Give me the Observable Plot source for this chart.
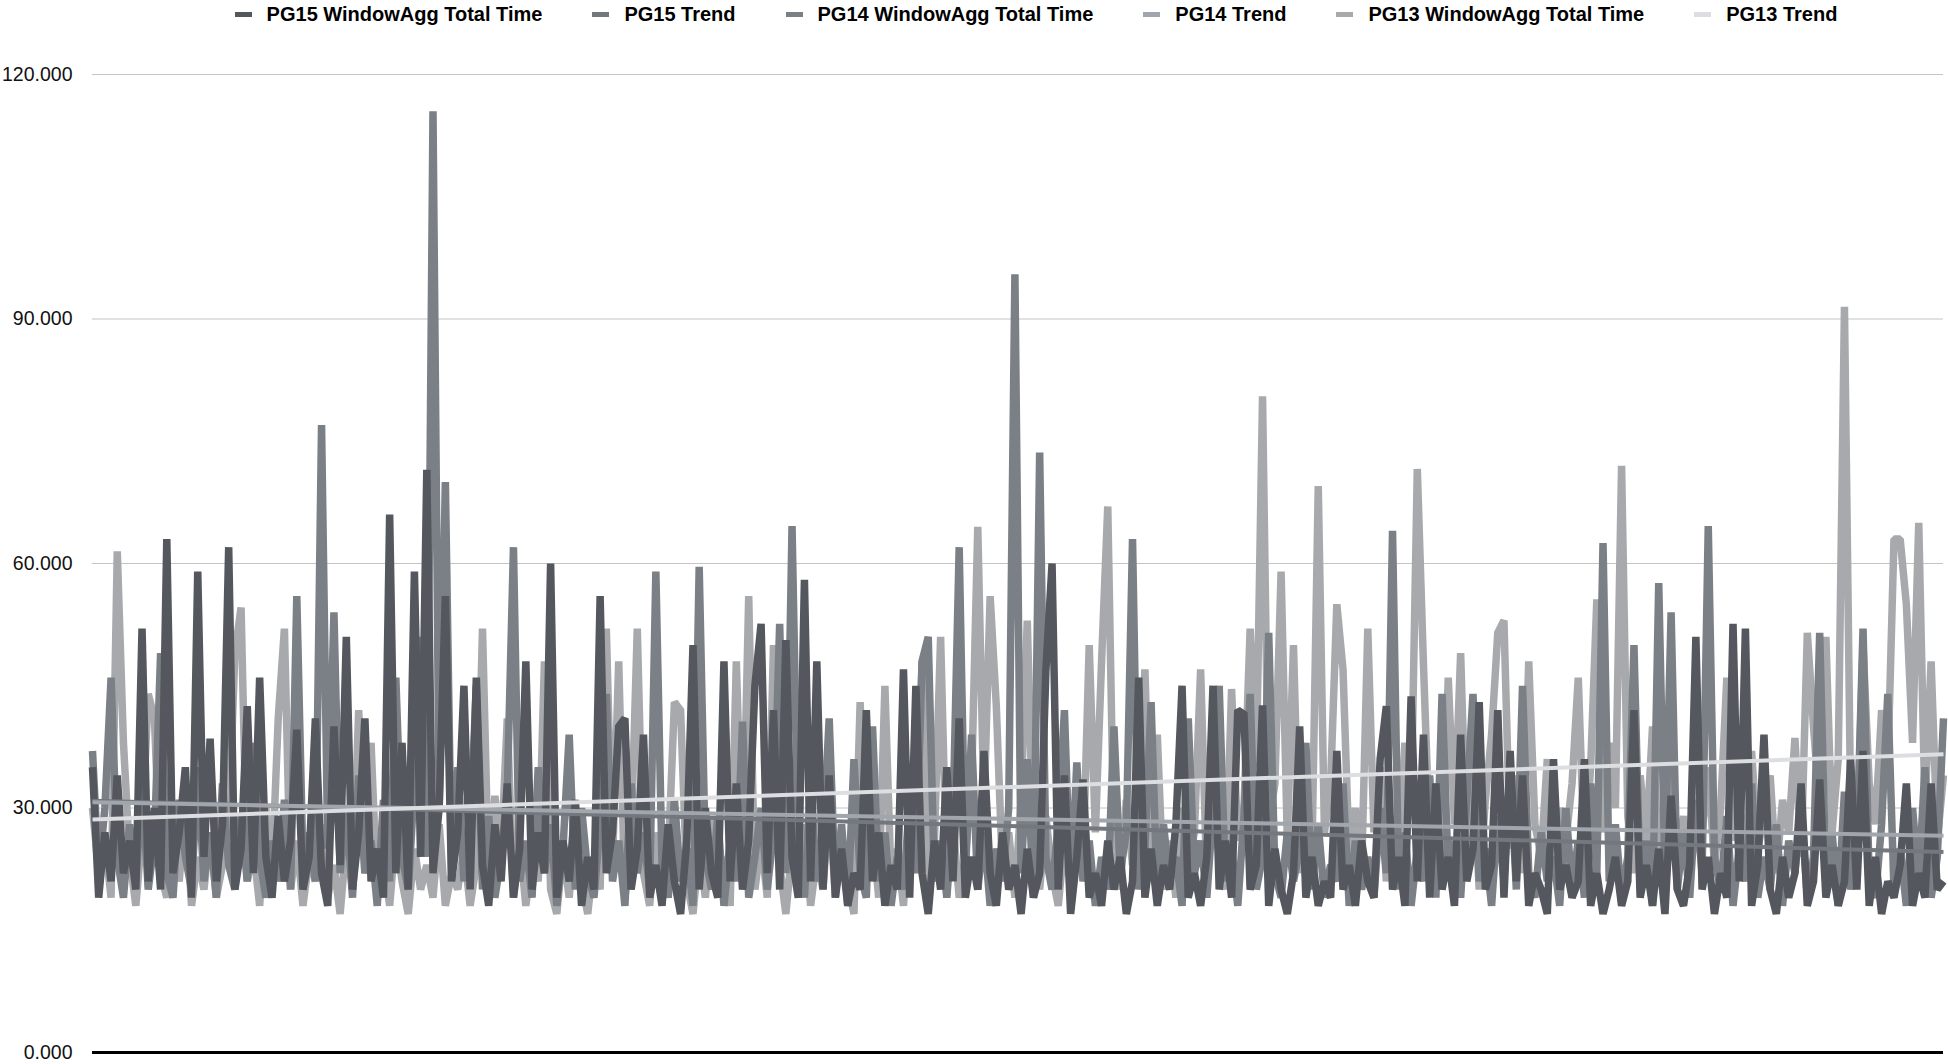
<!DOCTYPE html>
<html>
<head>
<meta charset="utf-8">
<script src="https://cdn.jsdelivr.net/npm/d3@7"></script>
<script src="https://cdn.jsdelivr.net/npm/@observablehq/plot@0.6"></script>
<style>
  body { margin: 0; background: #fff; width: 1948px; height: 1064px; overflow: hidden;
         font-family: "Liberation Sans", Arial, Helvetica, sans-serif; }
  #wrap { position: relative; width: 1948px; height: 1064px; }
  #legend { position: absolute; top: 3px; left: 0; width: 1948px; display: flex; justify-content: center;
            padding-left: 124px; box-sizing: border-box; font-weight: bold; font-size: 20px; color: #000; z-index: 2; }
  .item { display: flex; align-items: center; margin: 0 25px; white-space: nowrap; }
  .sw { width: 17px; height: 5px; margin-right: 15px; }
  #chart { position: absolute; top: 0; left: 0; }
</style>
</head>
<body>
<div id="wrap">
  <div id="legend"></div>
  <div id="chart"></div>
</div>
<script>
// ---- data ----
const seriesNames = ["PG15 WindowAgg Total Time", "PG15 Trend", "PG14 WindowAgg Total Time", "PG14 Trend", "PG13 WindowAgg Total Time", "PG13 Trend"];

const pg15 = [
  35,19,27,21,34,22,26,20,52,21,30,20,63,22,27,35,19,59,24,38.5,
  21,28,62,20,25,42.5,22,46,24,19,29,21,26,39.6,20,24,41,22,18,40,
  23,51,20,27,41,21,25,19,66,22,38,20,59,24,71.5,22,30,56,21,27,
  45,20,46,23,18,28,21,33,19,25,48,20,27,22,60,19,26,21,31,18,
  24,20,56,22,27,40,41,20,25,39,19,23,18,28,21,17,26,50,20,30,
  22,19,48,21,33,20,26,45,52.6,22,42,20,50.6,24,19,58,21,48,20,34,
  19,25,18,22,20,42,21,27,18,23,20,47,19,45,22,17,26,20,35,21,
  41,19,24,20,37,22,18,27,20,23,17,25,19,22,46.8,60,20,34,17,24,
  33.5,19,22,18,26,20,24,17,21,46,19,25,18,23,20,28,45,19,22,18,
  24,45,20,26,19,42,41.5,20,23,42.6,18,25,20,17,22,40,19,24,18,21,
  19,37,20,23,18,26,21,19,36,42.5,20,24,18,43.7,21,39,19,33,20,24,
  18,39,21,25,43,20,23,42,19,37,21,34,18,22,20,17,36,20,23,19,
  21,36,18,22,17,20,24,18,21,42,19,23,18,25,17,31.5,20,18,23,51,
  20,24,17,22,19,52.6,21,52,18,23,39,20,17,24,19,22,33,18,21,33.5,
  19,23,18,21,36,20,37,18,24,17,21,19,23,33,18,22,19,33,20,21
];

const pg14 = [
  37,22,30,46,24,19,28,21,33,20,26,49,22,19,31,24,20,35,21,27,
  19,33,23,20,29,21,38,24,19,26,21,31,20,56,23,27,21,77,25,54,
  22,30,19,34,22,26,18,31,21,46,24,20,33,51,24,115.5,30,70,22,35,
  21,27,45,20,29,19,24,32,62,21,26,19,35,22,28,18,25,39,20,30,
  22,19,28,44,21,26,18,33,22,27,20,59,23,19,31,21,25,18,59.6,24,
  20,29,18,26,21,40.6,19,24,30,20,27,52.6,22,64.6,25,19,33,21,26,41,
  20,28,18,36,22,19,40,21,27,18,24,20,31,22,48,51,21,26,19,29,
  62,22,39,20,27,18,25,21,30,95.5,22,36,19,73.6,24,20,28,42,19,35.6,
  21,26,18,24,20,40,22,27,63,20,25,43,19,28,21,24,18,41,22,26,
  19,30,45,21,25,18,29,44,20,24,51.5,22,19,27,21,25,38,20,28,19,
  23,21,33,18,26,20,24,19,30,22,64,20,27,18,25,21,34,19,44,22,
  26,19,31,44,21,25,18,29,21,35,20,45,22,19,27,21,24,18,30,20,
  26,19,33,22,62.5,21,28,19,24,50,20,26,18,57.6,22,54,20,27,19,31,
  22,64.6,24,20,29,18,25,21,33,19,24,20,28,18,26,22,30,19,24,51.5,
  21,27,18,32,20,25,52,21,19,28,44,20,25,18,30,21,35,19,24,41
];

const pg13 = [
  30,22,26,19,61.5,38,24,18,27,44,41,22,19,25,21,30,18,24,20,27,
  19,23,28,49,54.6,21,25,18,30,22,41,52,20,26,18,24,21,28,19,23,
  17,26,20,42,22,38,19,24,18,27,21,17,25,20,23,19,28,18,22,20,
  25,18,23,52,21,31.5,24,41,19,26,18,24,21,48,20,17,25,19,28,21,
  17,24,20,52,23,48,19,26,52,22,18,27,20,24,43,42,21,17,25,19,
  29,20,24,18,48,22,56,20,26,19,50,23,17,25,21,28,18,24,20,31,
  19,26,21,17,43,22,27,19,45,21,25,18,30,22,48,20,26,51,21,28,
  19,24,33,64.5,30,56,42.5,22,27,19,31,53,24,20,29,22,18,26,21,33,
  23,50,27,48,67,25,20,31,23,28,47,22,39,20,26,19,30,23,27,47,
  21,32,24,20,44.6,26,30,52,35,80.5,28,33,59,26,50,22,31,25,69.5,27,
  33,55,47,24,30,22,52,27,35,21,29,25,38,30,71.6,47.5,26,33,22,46,
  28,49,24,35,20,31,39,51.5,53,25,34,22,48,28,24,36,21,30,26,33,
  46,24,35,55.6,27,38,30,72,29,22,34,26,40,23,31,36,25,29,21,33,
  27,35,23,30,46,26,32,21,37,25,29,34,22,31,27,38.6,24,51.5,40,30,
  51,27,36,91.5,30,25,50,33,28,42,35,63,63,55,38,65,30,48,26,34
];

// trend lines: value at first and last run
const pg15Trend = [30.9, 24.6];
const pg14Trend = [30.7, 26.6];
const pg13Trend = [28.6, 36.6];

const yTicks = [0, 30, 60, 90, 120];

// ---- styles ----
const colors = ["#54575d", "#73777e", "#7b7f86", "#a1a5ac", "#a7a9ac", "#dcdee1"];

// ---- build tables ----
const toRows = arr => arr.map((v, i) => ({i, v}));
const trendRows = (t, n) => [{i: 0, v: t[0]}, {i: n - 1, v: t[1]}];
const n = pg15.length;

// legend
const legend = document.getElementById("legend");
seriesNames.forEach((name, k) => {
  const item = document.createElement("div");
  item.className = "item";
  const sw = document.createElement("div");
  sw.className = "sw";
  sw.style.background = colors[k];
  const tx = document.createElement("span");
  tx.textContent = name;
  item.appendChild(sw);
  item.appendChild(tx);
  legend.appendChild(item);
});

const lineOpts = (color) => ({x: "i", y: "v", stroke: color, strokeWidth: 7.5, strokeLinejoin: "miter", strokeMiterlimit: 1.2, strokeLinecap: "butt"});
const trendOpts = (color) => ({x: "i", y: "v", stroke: color, strokeWidth: 4, strokeLinecap: "butt"});

const chart = Plot.plot({
  width: 1948,
  height: 1064,
  marginTop: 74,
  marginBottom: 12,
  marginLeft: 92,
  marginRight: 5,
  x: {domain: [0, n - 1], axis: null},
  y: {domain: [0, 120]},
  style: {fontFamily: '"Liberation Sans", Arial, Helvetica, sans-serif', background: "transparent", color: "#000"},
  marks: [
    Plot.ruleY(yTicks.filter(d => d > 0), {stroke: "#c4c4c4", strokeWidth: 1}),
    Plot.axisY(yTicks, {tickSize: 0, tickPadding: 20, tickFormat: d => d.toFixed(3), fontSize: 19.5, fill: "#111", label: null}),
    Plot.line(toRows(pg13), lineOpts(colors[4])),
    Plot.line(toRows(pg14), lineOpts(colors[2])),
    Plot.line(toRows(pg15), lineOpts(colors[0])),
    Plot.ruleY([0], {stroke: "#000", strokeWidth: 3}),
    Plot.line(trendRows(pg15Trend, n), trendOpts(colors[1])),
    Plot.line(trendRows(pg14Trend, n), trendOpts(colors[3])),
    Plot.line(trendRows(pg13Trend, n), trendOpts(colors[5]))
  ]
});
document.getElementById("chart").appendChild(chart);
</script>
</body>
</html>
